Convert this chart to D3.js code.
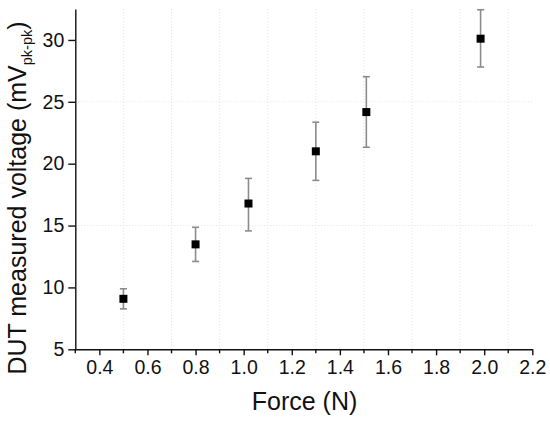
<!DOCTYPE html>
<html>
<head>
<meta charset="utf-8">
<script src="https://cdn.jsdelivr.net/npm/d3@7"></script>
<style>
  body { margin: 0; background: #fff; }
  text { font-family: "Liberation Sans", Arial, sans-serif; fill: #111; }
</style>
</head>
<body>
<svg id="chart" width="550" height="424"></svg>
<script>
// force (N) and measured voltage (mV pk-pk)
var force   = [0.5, 0.8, 1.02, 1.3, 1.51, 1.985];
var voltage = [9.08, 13.48, 16.78, 21.0, 24.17, 30.1];
var errTop  = [9.89, 14.86, 18.81, 23.35, 27.03, 32.44];
var errBot  = [8.27, 12.10, 14.57, 18.65, 21.33, 27.81];

var xTicks = [0.4, 0.6, 0.8, 1.0, 1.2, 1.4, 1.6, 1.8, 2.0, 2.2];
var xMinor = [0.3, 0.5, 0.7, 0.9, 1.1, 1.3, 1.5, 1.7, 1.9, 2.1];
var yTicks = [5, 10, 15, 20, 25, 30];
var xGrid  = [0.5, 0.7, 0.9, 1.1, 1.3, 1.5, 1.7, 1.9, 2.1];
var yGrid  = [15, 25];

var m = {left: 75.3, right: 532.3, top: 9, bottom: 349.3};

var svg = d3.select("#chart");

var x = d3.scaleLinear().domain([0.3, 2.2]).range([m.left, m.right]);
var y = d3.scaleLinear().domain([5, 32.5]).range([m.bottom, m.top]);

// dotted grid
var grid = svg.append("g").attr("stroke", "#e2e2e2").attr("stroke-width", 1)
  .attr("stroke-dasharray", "1,2");
grid.selectAll(".gx").data(xGrid).enter().append("line")
  .attr("x1", function(d) { return x(d); }).attr("x2", function(d) { return x(d); })
  .attr("y1", m.top).attr("y2", m.bottom);
grid.selectAll(".gy").data(yGrid).enter().append("line")
  .attr("y1", function(d) { return y(d); }).attr("y2", function(d) { return y(d); })
  .attr("x1", m.left).attr("x2", m.right);

// x axis
var xAxis = d3.axisBottom(x).tickValues(xTicks).tickFormat(d3.format(".1f"))
  .tickSize(6).tickPadding(5).tickSizeOuter(0);
var gx = svg.append("g").attr("transform", "translate(0," + m.bottom + ")").call(xAxis);
gx.selectAll(".tick text").attr("font-size", 19.5).style("fill", "#111");
gx.selectAll(".minor").data(xMinor).enter().append("line")
  .attr("class", "minor")
  .attr("x1", function(d) { return x(d); }).attr("x2", function(d) { return x(d); })
  .attr("y1", 0).attr("y2", 4).attr("stroke", "#111");

// y axis
var yAxis = d3.axisLeft(y).tickValues(yTicks).tickSize(7).tickPadding(4).tickSizeOuter(0);
var gy = svg.append("g").attr("transform", "translate(" + m.left + ",0)").call(yAxis);
gy.selectAll(".tick text").attr("font-size", 19.5).style("fill", "#111");

svg.selectAll(".domain, .tick line").attr("stroke", "#111").attr("stroke-width", 1.4);
gx.selectAll(".minor").attr("stroke-width", 1.4);

// error bars
var pts = force.map(function(f, i) {
  return {x: f, y: voltage[i], hi: errTop[i], lo: errBot[i]};
});
var eb = svg.append("g").attr("stroke", "#8c8c8c").attr("stroke-width", 1.6);
eb.selectAll(".bar").data(pts).enter().append("line")
  .attr("x1", function(d) { return x(d.x); }).attr("x2", function(d) { return x(d.x); })
  .attr("y1", function(d) { return y(d.hi); }).attr("y2", function(d) { return y(d.lo); });
eb.selectAll(".capT").data(pts).enter().append("line")
  .attr("x1", function(d) { return x(d.x) - 3.5; }).attr("x2", function(d) { return x(d.x) + 3.5; })
  .attr("y1", function(d) { return y(d.hi); }).attr("y2", function(d) { return y(d.hi); });
eb.selectAll(".capB").data(pts).enter().append("line")
  .attr("x1", function(d) { return x(d.x) - 3.5; }).attr("x2", function(d) { return x(d.x) + 3.5; })
  .attr("y1", function(d) { return y(d.lo); }).attr("y2", function(d) { return y(d.lo); });

// square markers
var s = 8;
svg.append("g").selectAll("rect").data(pts).enter().append("rect")
  .attr("x", function(d) { return x(d.x) - s / 2; })
  .attr("y", function(d) { return y(d.y) - s / 2; })
  .attr("width", s).attr("height", s)
  .attr("fill", "#000");

// axis titles
svg.append("text")
  .attr("x", 304.5).attr("y", 410)
  .attr("text-anchor", "middle").attr("font-size", 25)
  .text("Force (N)");

var yt = svg.append("text")
  .attr("transform", "translate(26,198) rotate(-90)")
  .attr("text-anchor", "middle").attr("font-size", 25);
yt.append("tspan").text("DUT measured voltage (mV");
yt.append("tspan").attr("font-size", 14.5).attr("dy", 6).text("pk-pk");
yt.append("tspan").attr("dy", -6).text(")");
</script>
</body>
</html>
